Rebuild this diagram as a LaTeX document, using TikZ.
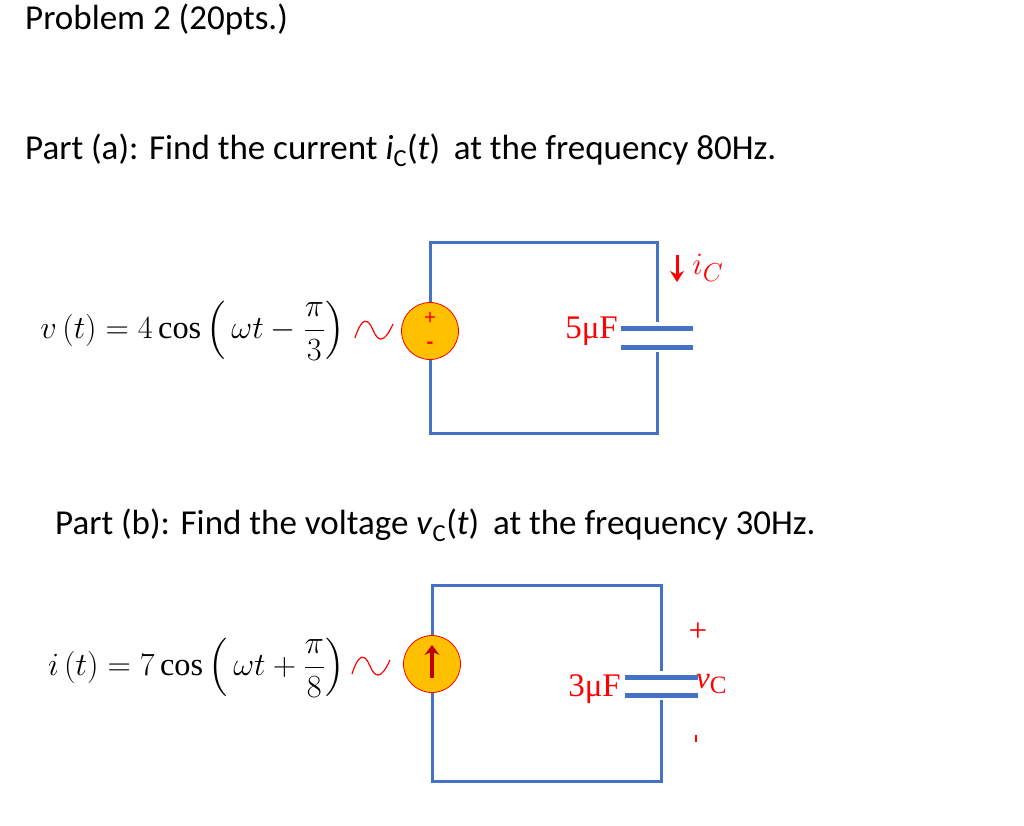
\documentclass[tikz,border=0pt]{standalone}
\usepackage{amssymb,amsmath}
\usepackage{fontspec}
\usetikzlibrary{arrows.meta}
\setmainfont{Carlito}
\newfontfamily\timesf{Liberation Serif}
\definecolor{wireblue}{HTML}{4472C4}
\definecolor{srcfill}{HTML}{FFC000}
\definecolor{darkred}{HTML}{C00000}
\tikzset{
  wire/.style={line width=3pt,draw=wireblue},
  plate/.style={line width=5pt,draw=wireblue},
  src/.style={circle,minimum size=57pt,inner sep=0pt,fill=srcfill,draw=red,line width=0.8pt},
  redtxt/.style={text=red,font=\timesf\fontsize{33}{35}\selectfont,inner sep=1pt},
  head/.style={anchor=west,inner sep=0pt,font=\fontsize{35}{40}\selectfont},
  formula/.style={anchor=east,inner sep=0pt,font=\fontsize{24.88}{30}\selectfont}
}
\begin{document}
\begin{tikzpicture}[x=1pt,y=-1pt]
\useasboundingbox[fill=white] (0,0) rectangle (1024,825);

\node[head] (title) at (25,20) {Problem 2 (20pts.)};
\node[head] (parta) at (25,150) {Part (a): Find the current \textit{i}\textsubscript{C}(\textit{t})\, at the frequency 80Hz.};
\node[head] (partb) at (55,525) {Part (b): Find the voltage \textit{v}\textsubscript{C}(\textit{t})\, at the frequency 30Hz.};

% part (a)
\node[formula] (va) at (345,331)
  {\scalebox{1.3}{$v\left(t\right)=4\,\mbox{\timesf cos}\left(\,\omega t-\dfrac{\pi}{3}\right)$}};
\draw[red,line width=1.2pt] (355,338) .. controls (362,316) and (368,318) .. (373,330)
  .. controls (378,342) and (384,344) .. (393,324);
\node[src] (sa) at (430,331) {};
\node[text=red,font=\fontsize{22}{22}\selectfont] (pa) at (430,318) {+};
\node[text=red,font=\bfseries\fontsize{22}{22}\selectfont] (ma) at (430,346) {-};
\coordinate (a1) at (430,242);
\coordinate (a2) at (657,242);
\coordinate (a3) at (657,322);
\coordinate (a4) at (657,352);
\coordinate (a5) at (657,433);
\coordinate (a6) at (430,433);
\draw[wire] (sa.north) -- (a1) -- (a2) -- (a3);
\draw[wire] (a4) -- (a5) -- (a6) -- (sa.south);
\draw[plate] (621,328) -- (693,328);
\draw[plate] (621,347) -- (693,347);
\node[redtxt,anchor=east] (ca) at (619,331) {5μF};
\coordinate (ia1) at (677,255);
\coordinate (ia2) at (677,282);
\draw[red,line width=3pt,-{Stealth[length=11pt,width=14pt]}] (ia1) -- (ia2);
\node[text=red,font=\fontsize{24.88}{30}\selectfont] (ica) at (708,268) {\scalebox{1.25}{$i_C$}};

% part (b)
\node[formula] (ib) at (345,668)
  {\scalebox{1.3}{$i\left(t\right)=7\,\mbox{\timesf cos}\left(\,\omega t+\dfrac{\pi}{8}\right)$}};
\draw[red,line width=1.2pt] (352,674) .. controls (359,652) and (365,654) .. (370,666)
  .. controls (375,678) and (381,680) .. (390,660);
\node[src] (sb) at (432,664) {};
\coordinate (ba1) at (432,678);
\coordinate (ba2) at (432,645);
\draw[darkred,line width=3.5pt,-{Stealth[length=10pt,width=15pt]}] (ba1) -- (ba2);
\coordinate (b1) at (432,585);
\coordinate (b2) at (661,585);
\coordinate (b3) at (661,671);
\coordinate (b4) at (661,700);
\coordinate (b5) at (661,781);
\coordinate (b6) at (432,781);
\draw[wire] (sb.north) -- (b1) -- (b2) -- (b3);
\draw[wire] (b4) -- (b5) -- (b6) -- (sb.south);
\draw[plate] (625,677) -- (698,677);
\draw[plate] (625,695) -- (698,695);
\node[redtxt,anchor=east] (cb) at (622,689) {3μF};
\node[redtxt] (plusb) at (698,632) {+};
\coordinate (mb1) at (696,735);
\coordinate (mb2) at (696,742);
\draw[red,line width=2pt] (mb1) -- (mb2);
\node[text=red,anchor=west,inner sep=0pt,font=\timesf\fontsize{31}{33}\selectfont] (vcb) at (696,684) {\textit{v}\raisebox{-5pt}{\fontsize{25}{25}\selectfont C}};
\end{tikzpicture}
\end{document}
